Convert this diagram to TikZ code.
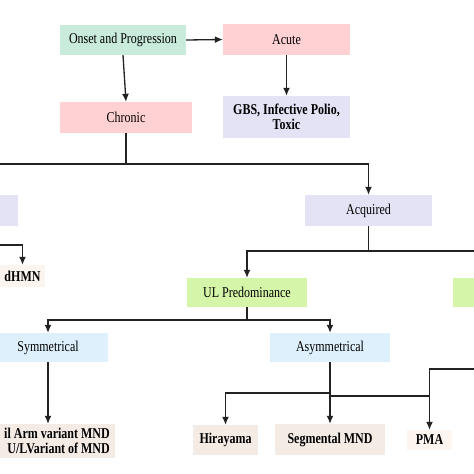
\documentclass[tikz,border=0pt]{standalone}
\usepackage{fontspec}
\setmainfont{Liberation Serif}[FakeStretch=0.8]
\usetikzlibrary{arrows.meta}
\usetikzlibrary{positioning}
\definecolor{mmint}{HTML}{C9EBDB}
\definecolor{mpink}{HTML}{FFD1D3}
\definecolor{mlav}{HTML}{E4E3F5}
\definecolor{mlime}{HTML}{D5F5A8}
\definecolor{msky}{HTML}{DDF0FC}
\definecolor{mcream}{HTML}{F5EBE5}
\definecolor{mcreamlt}{HTML}{FCF4EE}
\definecolor{mline}{HTML}{222222}

\begin{document}
\begin{tikzpicture}[x=1pt, y=-1pt,
    box/.style={fill=#1, inner sep=0pt, minimum height=31pt, align=center,
      font=\fontsize{15}{14.5}\selectfont},
    leaf/.style={box=#1, font=\fontsize{15}{14.5}\selectfont\bfseries},
    link/.style={draw=mline, line width=1.3pt, -{Latex[length=8pt,width=7pt]}},
    wire/.style={draw=mline, line width=1.3pt}]
    \useasboundingbox (0,0) rectangle (474,474);
    \clip (0,0) rectangle (474,474);

    % first level
    \node [box=mmint, minimum width=126pt, minimum height=30pt] (onset) at (123,40) {Onset and Progression};
    \node [box=mpink, minimum width=127pt] (acute) at (286.5,39.5) {Acute};
    \node [box=mpink, minimum width=132pt] (chronic) at (126,117.5) {Chronic};
    \node [leaf=mlav, minimum width=127pt, minimum height=42pt] (gbs) at (286.5,117) {GBS, Infective Polio,\\Toxic};

    % chronic branches
    \node [box=mlav, minimum width=128pt] (inherited) at (-46,210.5) {};
    \node [box=mlav, minimum width=127pt] (acquired) at (368.5,210.5) {Acquired};
    \node [leaf=mcreamlt, minimum width=45pt, minimum height=22pt] (dhmn) at (22.5,276) {dHMN};
    \node [box=mlime, minimum width=120pt, minimum height=29pt] (ul) at (247,292.5) {UL Predominance};
    \node [box=mlime, minimum width=120pt, minimum height=29pt] (ll) at (513,292.5) {};

    % upper limb
    \node [box=msky, minimum width=120pt, minimum height=29pt] (sym) at (48,347.5) {Symmetrical};
    \node [box=msky, minimum width=120pt, minimum height=29pt] (asym) at (330,347.5) {Asymmetrical};
    \node [leaf=mcream, minimum width=116pt, minimum height=34pt, align=right] (flail) at (57,441) {il Arm variant MND\\U/LVariant of MND};
    \node [leaf=mcream, minimum width=65pt, minimum height=30pt] (hirayama) at (225.5,440) {Hirayama};
    \node [leaf=mcream, minimum width=110pt] (segmental) at (330,439.5) {Segmental MND};
    \node [leaf=mcreamlt, minimum width=45pt, minimum height=20pt] (pma) at (429.5,440) {PMA};

    \coordinate (lchr) at (-5,164);
    \coordinate (ldh) at (-5,245);
    \coordinate (racq) at (480,251);
    \coordinate (jul) at (247,320);
    \coordinate (jhir) at (329,393);
    \coordinate (jpma) at (329,396);
    \coordinate (rpma) at (480,369);

    \draw [link] (onset.east) -- (acute.west);
    \draw [link] (onset.south) -- (chronic.north);
    \draw [link] (acute.south) -- (gbs.north);

    \draw [wire] (chronic.south) -- (chronic.south |- lchr);
    \draw [link] (lchr) -| (acquired.north);
    \draw [link] (ldh) -| (dhmn.north);

    \draw [wire] (acquired.south) -- (acquired.south |- racq);
    \draw [link] (racq) -| (ul.north);

    \draw [wire] (ul.south) -- (jul);
    \draw [link] (jul) -| (sym.north);
    \draw [link] (jul) -| (asym.north);

    \draw [link] (sym.south) -- (sym.south |- flail.north);
    \draw [link] (asym.south) -- (segmental.north);
    \draw [link] (jhir) -| (hirayama.north);
    \draw [wire] (jpma) -- (jpma -| pma.north);
    \draw [link] (rpma) -| (pma.north);
  \end{tikzpicture}
\end{document}
